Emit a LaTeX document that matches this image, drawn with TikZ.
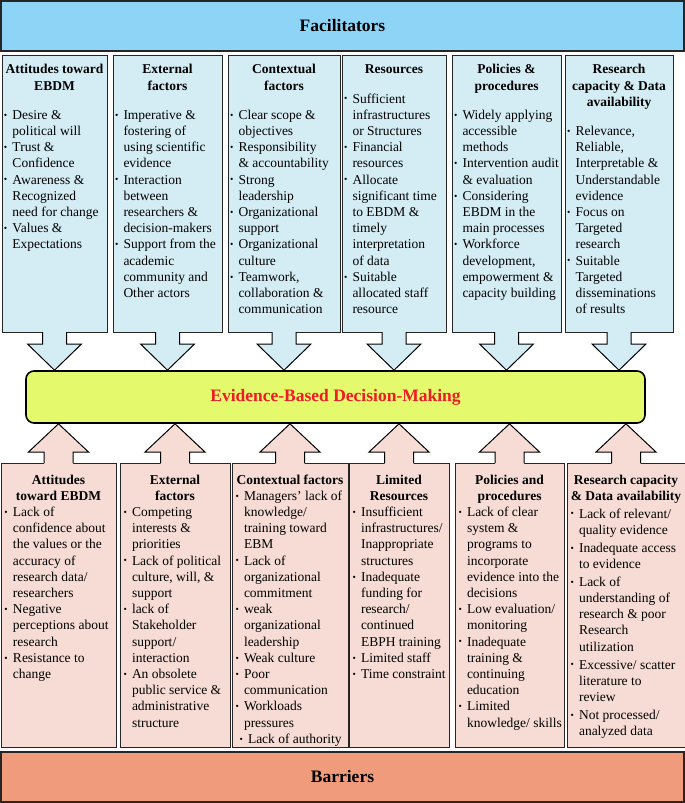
\documentclass[tikz,border=0pt]{standalone}
\usepackage{fontspec}
\setmainfont{Liberation Serif}
\usetikzlibrary{calc,positioning}
\definecolor{FacBanner}{HTML}{8ED4F7}
\definecolor{FacFill}{HTML}{D4EDF5}
\definecolor{BarBanner}{HTML}{F09C7C}
\definecolor{BarFill}{HTML}{F6DCD4}
\definecolor{EbdmFill}{HTML}{E4FA6C}
\definecolor{EbdmText}{HTML}{EE1C25}
\definecolor{Edge}{HTML}{262626}

% column text: inner width, inner height, content
\newcommand{\colbox}[3]{\parbox[t][#2pt][t]{#1pt}{#3}}
\newcommand{\hd}[2][0pt]{{\centering\leftskip=-8pt plus 1fil\rightskip=-8pt plus 1fil
  \bfseries\strut#2\par}\vspace{#1}}
\newlength{\bulletind}
\newcommand{\itm}[1]{\par\hangindent=\bulletind\hangafter=1\rightskip=-15pt plus 1fil
  \noindent\makebox[\bulletind][l]{\raisebox{1.2pt}{\fontsize{9.5}{9.5}\selectfont\textbullet}}#1\par}

\begin{document}
\begin{tikzpicture}[x=1pt,y=-1pt,
    txt/.style={font=\fontsize{13.5}{16.2}\selectfont,outer sep=0pt,
                draw=Edge,line width=0.8pt},
    facbox/.style={txt,fill=FacFill,inner xsep=2pt,inner ysep=7.5pt,
                   execute at begin node={\setlength{\bulletind}{8.5pt}}},
    barbox/.style={txt,fill=BarFill,inner xsep=3.5pt,inner ysep=9.7pt,
                   execute at begin node={\setlength{\bulletind}{8.5pt}}},
    banner/.style={draw=Edge,line width=1.2pt,minimum width=683,minimum height=50,
                   outer sep=0pt,font=\fontsize{17.5}{20}\selectfont\bfseries},
    edge/.style={black,line width=1pt,line join=miter}]
  \useasboundingbox (0,0) rectangle (685,803);

  \node[banner,fill=FacBanner,anchor=north west] (fac) at (1,1) {Facilitators};

  % facilitators
  \node[facbox,anchor=north west] (f1) at (2,55) {\colbox{101}{262}{%
    \hd[13pt]{Attitudes toward\\EBDM}
    \itm{Desire \&\\political will}
    \itm{Trust \&\\Confidence}
    \itm{Awareness \&\\Recognized\\need for change}
    \itm{Values \&\\Expectations}}};
  \node[facbox,right=6pt of f1] (f2) {\colbox{105}{262}{%
    \hd[13pt]{External\\factors}
    \itm{Imperative \&\\fostering of\\using scientific\\evidence}
    \itm{Interaction\\between\\researchers \&\\decision-makers}
    \itm{Support from the\\academic\\community and\\Other actors}}};
  \node[facbox,right=6pt of f2] (f3) {\colbox{108}{262}{%
    \hd[13pt]{Contextual\\factors}
    \itm{Clear scope \&\\objectives}
    \itm{Responsibility\\\& accountability}
    \itm{Strong\\leadership}
    \itm{Organizational\\support}
    \itm{Organizational\\culture}
    \itm{Teamwork,\\collaboration \&\\communication}}};
  \node[facbox,right=2pt of f3] (f4) {\colbox{100}{262}{%
    \hd[13pt]{Resources}
    \itm{Sufficient\\infrastructures\\or Structures}
    \itm{Financial\\resources}
    \itm{Allocate\\significant time\\to EBDM \&\\timely\\interpretation\\of data}
    \itm{Suitable\\allocated staff\\resource}}};
  \node[facbox,right=6pt of f4] (f5) {\colbox{105}{262}{%
    \hd[13pt]{Policies \&\\procedures}
    \itm{Widely applying\\accessible\\methods}
    \itm{Intervention audit\\\& evaluation}
    \itm{Considering\\EBDM in the\\main processes}
    \itm{Workforce\\development,\\empowerment \&\\capacity building}}};
  \node[facbox,right=4pt of f5] (f6) {\colbox{104}{262}{%
    \hd[13pt]{Research\\capacity \& Data\\availability}
    \itm{Relevance,\\Reliable,\\Interpretable \&\\Understandable\\evidence}
    \itm{Focus on\\Targeted\\research}
    \itm{Suitable\\Targeted\\disseminations\\of results}}};

  \node[draw=black,line width=1.6pt,rounded corners=8pt,fill=EbdmFill,
        minimum width=619,minimum height=52,text=EbdmText,
        font=\fontsize{17.5}{20}\selectfont\bfseries] (ebdm) at (335.5,397)
    {Evidence-Based Decision-Making};

  % barriers
  \node[barbox,anchor=north west] (b1) at (1,463) {\colbox{108}{264.6}{%
    \hd{Attitudes\\toward EBDM}
    \itm{Lack of\\confidence about\\the values or the\\accuracy of\\research data/\\researchers}
    \itm{Negative\\perceptions about\\research}
    \itm{Resistance to\\change}}};
  \node[barbox,right=4pt of b1] (b2) {\colbox{103}{264.6}{%
    \hd{External\\factors}
    \itm{Competing\\interests \&\\priorities}
    \itm{Lack of political\\culture, will, \&\\support}
    \itm{lack of\\Stakeholder\\support/\\interaction}
    \itm{An obsolete\\public service \&\\administrative\\structure}}};
  \node[barbox,right=2pt of b2] (b3) {\colbox{109}{264.6}{%
    \hd{Contextual factors}
    \itm{Managers’ lack of\\knowledge/\\training toward\\EBM}
    \itm{Lack of\\organizational\\commitment}
    \itm{weak\\organizational\\leadership}
    \itm{Weak culture}
    \itm{Poor\\communication}
    \itm{Workloads\\pressures}
    {\leftskip=4pt\itm{Lack of authority}}}};
  \node[barbox,right=1pt of b3] (b4) {\colbox{93}{264.6}{%
    \hd{Limited\\Resources}
    \itm{Insufficient\\infrastructures/\\Inappropriate\\structures}
    \itm{Inadequate\\funding for\\research/\\continued\\EBPH training}
    \itm{Limited staff}
    \itm{Time constraint}}};
  \node[barbox,right=6pt of b4] (b5) {\colbox{102}{264.6}{%
    \hd{Policies and\\procedures}
    \itm{Lack of clear\\system \&\\programs to\\incorporate\\evidence into the\\decisions}
    \itm{Low evaluation/\\monitoring}
    \itm{Inadequate\\training \&\\continuing\\education}
    \itm{Limited\\knowledge/ skills}}};
  \node[barbox,right=3pt of b5] (b6) {\colbox{111}{264.6}{%
    \hd{Research capacity\\\& Data availability}
    \setlength{\parskip}{1.7pt}
    \itm{Lack of relevant/\\quality evidence}
    \itm{Inadequate access\\to evidence}
    \itm{Lack of\\understanding of\\research \& poor\\Research\\utilization}
    \itm{Excessive/ scatter\\literature to\\review}
    \itm{Not processed/\\analyzed data}}};

  \node[banner,fill=BarBanner,anchor=north west] (bar) at (1,752) {Barriers};

  % block arrows into the EBDM box
  \foreach \i in {1,...,6}{
    \coordinate (s) at (f\i.south);
    \coordinate (t) at (f\i.south |- ebdm.north);
    \fill[FacFill] ($(s)+(-12,-1)$) -- ($(s)+(-12,12)$) -- ($(s)+(-27,12)$) -- (t)
      -- ($(s)+(27,12)$) -- ($(s)+(12,12)$) -- ($(s)+(12,-1)$) -- cycle;
    \draw[edge] ($(s)+(-12,0)$) -- ($(s)+(-12,12)$) -- ($(s)+(-27,12)$) -- (t)
      -- ($(s)+(27,12)$) -- ($(s)+(12,12)$) -- ($(s)+(12,0)$);
  }
  \foreach \i in {1,...,6}{
    \coordinate (s) at (b\i.north);
    \coordinate (t) at (b\i.north |- ebdm.south);
    \fill[BarFill] ($(s)+(-14.5,1)$) -- ($(s)+(-14.5,-11)$) -- ($(s)+(-30,-11)$) -- (t)
      -- ($(s)+(30,-11)$) -- ($(s)+(14.5,-11)$) -- ($(s)+(14.5,1)$) -- cycle;
    \draw[edge] ($(s)+(-14.5,0)$) -- ($(s)+(-14.5,-11)$) -- ($(s)+(-30,-11)$) -- (t)
      -- ($(s)+(30,-11)$) -- ($(s)+(14.5,-11)$) -- ($(s)+(14.5,0)$);
  }
\end{tikzpicture}
\end{document}
